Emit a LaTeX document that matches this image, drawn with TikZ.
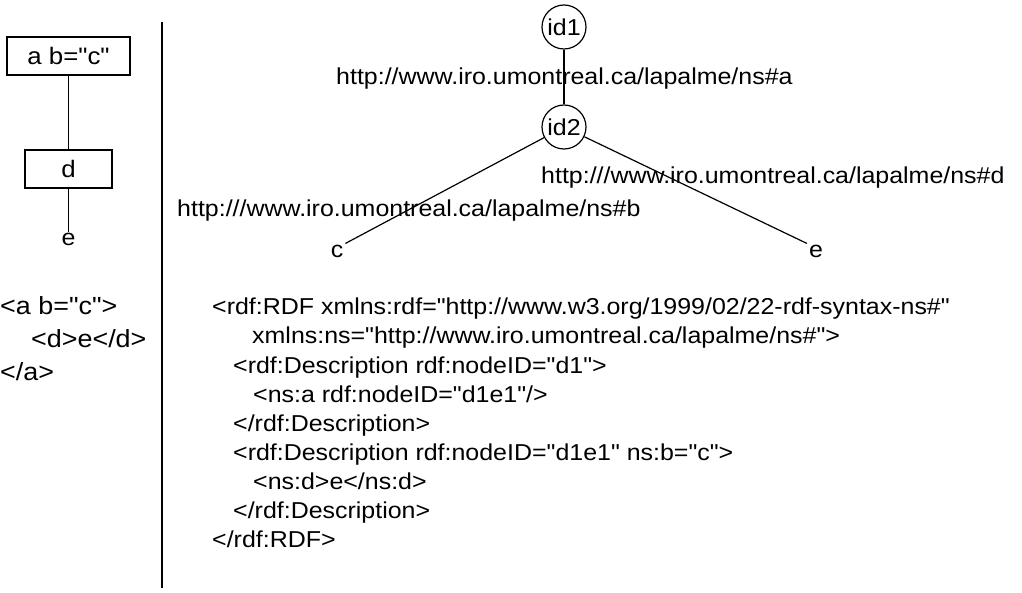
\documentclass[tikz,border=0pt]{standalone}
\usepackage{fontspec}
\setmainfont{Liberation Sans}[FakeStretch=1.085, Ligatures=TeXOff]
\newcommand{\dq}{\symbol{34}}
\begin{document}
\begin{tikzpicture}[x=1pt,y=-1pt,
  every node/.style={font=\fontsize{23}{29}\selectfont, inner sep=0pt},
  txt/.style={anchor=base west},
  bigtxt/.style={anchor=base west, font=\fontsize{24.8}{30}\selectfont},
  boxn/.style={draw, line width=1.2pt, anchor=center, font=\fontsize{23.8}{30}\selectfont},
  circn/.style={draw, circle, line width=1.2pt, minimum size=44pt, inner sep=0pt},
  conn/.style={line width=1.2pt}]
\useasboundingbox (0,0) rectangle (1022,593);
% left tree
\node[boxn, minimum width=123pt, minimum height=38pt] (ab) at (68.5,56) {a b=\dq c\dq};
\node[boxn, minimum width=87pt, minimum height=38pt] (d) at (68.5,169) {d};
\node[anchor=base, inner sep=1pt] (le) at (68.5,246) {e};
\draw[conn] (ab) -- (d);
\draw[conn] (d) -- (le.north);
% left xml
\node[bigtxt] (x1) at (0,315) {<a b=\dq c\dq>};
\node[bigtxt] (x2) at (31,348) {<d>e</d>};
\node[bigtxt] (x3) at (0,380) {</a>};
% separator
\coordinate (s1) at (162,22);
\coordinate (s2) at (162,588);
\draw[conn] (s1) -- (s2);
% graph
\node[circn] (id1) at (564,27) {id1};
\node[circn] (id2) at (564,127) {id2};
\draw[conn] (id1) -- (id2);
\node[txt] (la) at (336,85) {http://www.iro.umontreal.ca/lapalme/ns\#a};
\node[anchor=base, inner sep=2pt] (c) at (337,258) {c};
\node[anchor=base, inner sep=2pt] (e) at (816,258) {e};
\draw[conn] (id2) -- (c.north east);
\draw[conn] (id2) -- (e.north west);
\node[txt] (ld) at (541,184) {http:///www.iro.umontreal.ca/lapalme/ns\#d};
\node[txt] (lb) at (177,217) {http:///www.iro.umontreal.ca/lapalme/ns\#b};
% rdf xml
\node[txt] (r1) at (212,315) {<rdf:RDF xmlns:rdf=\dq http://www.w3.org/1999/02/22-rdf-syntax-ns\#\dq};
\node[txt] (r2) at (252,344) {xmlns:ns=\dq http://www.iro.umontreal.ca/lapalme/ns\#\dq>};
\node[txt] (r3) at (233,373) {<rdf:Description rdf:nodeID=\dq d1\dq>};
\node[txt] (r4) at (253,402) {<ns:a rdf:nodeID=\dq d1e1\dq/>};
\node[txt] (r5) at (233,431) {</rdf:Description>};
\node[txt] (r6) at (233,460) {<rdf:Description rdf:nodeID=\dq d1e1\dq\ ns:b=\dq c\dq>};
\node[txt] (r7) at (253,489) {<ns:d>e</ns:d>};
\node[txt] (r8) at (233,518) {</rdf:Description>};
\node[txt] (r9) at (212,547) {</rdf:RDF>};
\end{tikzpicture}
\end{document}
